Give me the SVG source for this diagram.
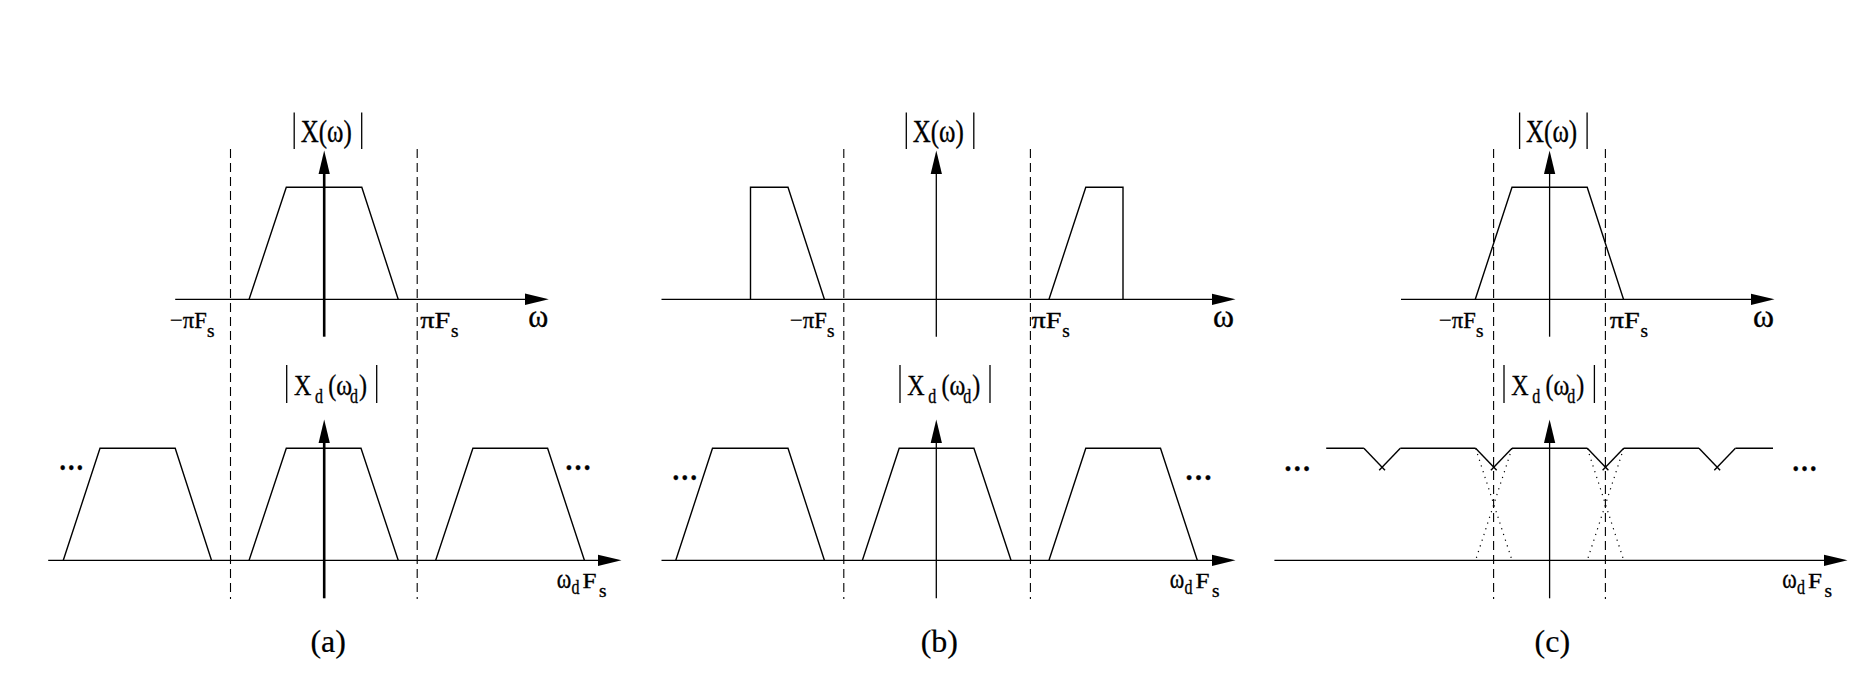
<svg xmlns="http://www.w3.org/2000/svg" width="1860" height="700" viewBox="0 0 1860 700">
<defs>
<marker id="ah" markerUnits="userSpaceOnUse" markerWidth="24" markerHeight="12" viewBox="0 0 23 11" refX="11" refY="5.5" orient="auto">
<path d="M0,0 L23,5.5 L0,11 z" fill="#000"/>
</marker>
<style>
.ax{stroke:#000;stroke-width:1.3;fill:none}
.axb{stroke:#000;stroke-width:2.6;fill:none}
.dash{stroke:#000;stroke-width:1.1;stroke-dasharray:9 5;fill:none}
.sp{stroke:#000;stroke-width:1.4;fill:none;stroke-linejoin:miter}
.dot{stroke:#000;stroke-width:1.2;stroke-dasharray:1.2 4.8;fill:none}
.bar{stroke:#000;stroke-width:1.3}
text{font-family:"Liberation Serif","Times New Roman",serif;fill:#000;stroke:#000;stroke-width:0.35}
.big{font-size:31px}
.lab{font-size:30px}
.sub{font-size:20px}
.pf{font-size:24px}
.ps{font-size:18px}
.cap{font-size:32px;text-anchor:middle;stroke-width:0.2}
.ell{font-size:30px;font-weight:bold}
</style>
</defs>
<rect width="1860" height="700" fill="#fff"/>

<g id="panel-a">
 <g id="a-guides">
  <line class="dash" x1="230.5" y1="149" x2="230.5" y2="599"/>
  <line class="dash" x1="417.2" y1="149" x2="417.2" y2="599"/>
 </g>
 <g id="a-top">
  <line class="ax" x1="175.2" y1="299.3" x2="536.3" y2="299.3" marker-end="url(#ah)"/>
  <line class="axb" x1="324.2" y1="336.7" x2="324.2" y2="163" marker-end="url(#ah)"/>
  <polyline class="sp" points="249.1,299.3 286.3,187.3 361.8,187.3 398.2,299.3"/>
  <line class="bar" x1="294.2" y1="112.5" x2="294.2" y2="149"/>
  <line class="bar" x1="361.7" y1="112.5" x2="361.7" y2="149"/>
  <text class="big" x="300.7" y="142.3" textLength="51" lengthAdjust="spacingAndGlyphs">X(ω)</text>
  <text class="pf" x="170" y="328" textLength="36.7" lengthAdjust="spacingAndGlyphs">−πF</text>
  <text class="ps" x="207" y="337" textLength="7.5" lengthAdjust="spacingAndGlyphs">s</text>
  <text class="pf" x="420.3" y="328" textLength="30" lengthAdjust="spacingAndGlyphs">πF</text>
  <text class="ps" x="451" y="337" textLength="7.5" lengthAdjust="spacingAndGlyphs">s</text>
  <text class="big" x="528.3" y="327" textLength="20" lengthAdjust="spacingAndGlyphs">ω</text>
 </g>
 <g id="a-bottom">
  <line class="ax" x1="48.2" y1="560.3" x2="609" y2="560.3" marker-end="url(#ah)"/>
  <line class="axb" x1="324.2" y1="598.3" x2="324.2" y2="432" marker-end="url(#ah)"/>
  <polyline class="sp" points="63.3,560.3 100,448.3 175.2,448.3 211.5,560.3"/>
  <polyline class="sp" points="249.1,560.3 286.3,448.3 361,448.3 398.2,560.3"/>
  <polyline class="sp" points="435.7,560.3 472.9,448.3 547.6,448.3 584.4,560.3"/>
  <text class="ell" x="58.5" y="470" textLength="25.5" lengthAdjust="spacingAndGlyphs">…</text>
  <text class="ell" x="564.6" y="470" textLength="27" lengthAdjust="spacingAndGlyphs">…</text>
  <line class="bar" x1="286.7" y1="365" x2="286.7" y2="403"/>
  <line class="bar" x1="376.7" y1="365" x2="376.7" y2="403"/>
  <text class="lab" transform="translate(294,395) scale(0.8,1)">X<tspan class="sub" x="26.25" y="7.5">d</tspan><tspan x="42.9" y="0">(ω</tspan><tspan class="sub" x="70" y="7.5">d</tspan><tspan x="81.3" y="0">)</tspan></text>
  <text style="font-size:28px" x="556.7" y="588" textLength="14.5" lengthAdjust="spacingAndGlyphs">ω</text>
  <text class="sub" x="571.5" y="594" textLength="8" lengthAdjust="spacingAndGlyphs">d</text>
  <text style="font-size:22px" x="582.5" y="588" textLength="14" lengthAdjust="spacingAndGlyphs">F</text>
  <text class="ps" x="599" y="597" textLength="7.5" lengthAdjust="spacingAndGlyphs">s</text>
 </g>
 <text class="cap" x="328.2" y="652">(a)</text>
</g>

<g id="panel-b">
 <g id="b-guides">
  <line class="dash" x1="843.8" y1="149" x2="843.8" y2="599"/>
  <line class="dash" x1="1030.4" y1="149" x2="1030.4" y2="599"/>
 </g>
 <g id="b-top">
  <line class="ax" x1="661.5" y1="299.3" x2="1223" y2="299.3" marker-end="url(#ah)"/>
  <line class="ax" x1="936.3" y1="336.7" x2="936.3" y2="163" marker-end="url(#ah)"/>
  <polyline class="sp" points="750.5,299.3 750.5,187.3 788,187.3 824.4,299.3"/>
  <polyline class="sp" points="1049,299.3 1085.8,187.3 1123,187.3 1123,299.3"/>
  <line class="bar" x1="906.3" y1="112.5" x2="906.3" y2="149"/>
  <line class="bar" x1="973.8" y1="112.5" x2="973.8" y2="149"/>
  <text class="big" x="912.8" y="142.3" textLength="51" lengthAdjust="spacingAndGlyphs">X(ω)</text>
  <text class="pf" x="790" y="328" textLength="36.7" lengthAdjust="spacingAndGlyphs">−πF</text>
  <text class="ps" x="827" y="337" textLength="7.5" lengthAdjust="spacingAndGlyphs">s</text>
  <text class="pf" x="1031.5" y="328" textLength="30" lengthAdjust="spacingAndGlyphs">πF</text>
  <text class="ps" x="1062.2" y="337" textLength="7.5" lengthAdjust="spacingAndGlyphs">s</text>
  <text class="big" x="1213" y="327" textLength="21" lengthAdjust="spacingAndGlyphs">ω</text>
 </g>
 <g id="b-bottom">
  <line class="ax" x1="661.5" y1="560.3" x2="1223" y2="560.3" marker-end="url(#ah)"/>
  <line class="ax" x1="936.3" y1="598.3" x2="936.3" y2="432" marker-end="url(#ah)"/>
  <polyline class="sp" points="675.8,560.3 712.5,448.3 788,448.3 824.4,560.3"/>
  <polyline class="sp" points="862.4,560.3 899.2,448.3 973.9,448.3 1011,560.3"/>
  <polyline class="sp" points="1049,560.3 1085.8,448.3 1160.5,448.3 1197.3,560.3"/>
  <text class="ell" x="671.4" y="479.5" textLength="26.5" lengthAdjust="spacingAndGlyphs">…</text>
  <text class="ell" x="1184.6" y="479.5" textLength="28" lengthAdjust="spacingAndGlyphs">…</text>
  <line class="bar" x1="900" y1="365" x2="900" y2="403"/>
  <line class="bar" x1="990" y1="365" x2="990" y2="403"/>
  <text class="lab" transform="translate(907.3,395) scale(0.8,1)">X<tspan class="sub" x="26.25" y="7.5">d</tspan><tspan x="42.9" y="0">(ω</tspan><tspan class="sub" x="70" y="7.5">d</tspan><tspan x="81.3" y="0">)</tspan></text>
  <text style="font-size:28px" x="1169.7" y="588" textLength="14.5" lengthAdjust="spacingAndGlyphs">ω</text>
  <text class="sub" x="1184.5" y="594" textLength="8" lengthAdjust="spacingAndGlyphs">d</text>
  <text style="font-size:22px" x="1195.5" y="588" textLength="14" lengthAdjust="spacingAndGlyphs">F</text>
  <text class="ps" x="1212" y="597" textLength="7.5" lengthAdjust="spacingAndGlyphs">s</text>
 </g>
 <text class="cap" x="939.3" y="652">(b)</text>
</g>

<g id="panel-c">
 <g id="c-guides">
  <line class="dash" x1="1493.6" y1="149" x2="1493.6" y2="599"/>
  <line class="dash" x1="1605.4" y1="149" x2="1605.4" y2="599"/>
 </g>
 <g id="c-top">
  <line class="ax" x1="1401" y1="299.3" x2="1762" y2="299.3" marker-end="url(#ah)"/>
  <line class="ax" x1="1549.6" y1="336.7" x2="1549.6" y2="163" marker-end="url(#ah)"/>
  <polyline class="sp" points="1475.3,299.3 1512,187.3 1587.2,187.3 1623.5,299.3"/>
  <line class="bar" x1="1519.6" y1="112.5" x2="1519.6" y2="149"/>
  <line class="bar" x1="1587.1" y1="112.5" x2="1587.1" y2="149"/>
  <text class="big" x="1526.1" y="142.3" textLength="51" lengthAdjust="spacingAndGlyphs">X(ω)</text>
  <text class="pf" x="1439" y="328" textLength="36.7" lengthAdjust="spacingAndGlyphs">−πF</text>
  <text class="ps" x="1476" y="337" textLength="7.5" lengthAdjust="spacingAndGlyphs">s</text>
  <text class="pf" x="1609.7" y="328" textLength="30" lengthAdjust="spacingAndGlyphs">πF</text>
  <text class="ps" x="1640.4" y="337" textLength="7.5" lengthAdjust="spacingAndGlyphs">s</text>
  <text class="big" x="1753" y="327" textLength="21" lengthAdjust="spacingAndGlyphs">ω</text>
 </g>
 <g id="c-bottom">
  <line class="ax" x1="1274.4" y1="560.3" x2="1835" y2="560.3" marker-end="url(#ah)"/>
  <line class="ax" x1="1549.6" y1="598.3" x2="1549.6" y2="432" marker-end="url(#ah)"/>
  <g id="c-sum">
   <line class="sp" x1="1326.2" y1="448.3" x2="1363.9" y2="448.3"/>
   <line class="sp" x1="1400.3" y1="448.3" x2="1475.6" y2="448.3"/>
   <line class="sp" x1="1512" y1="448.3" x2="1587.3" y2="448.3"/>
   <line class="sp" x1="1623.7" y1="448.3" x2="1699" y2="448.3"/>
   <line class="sp" x1="1735.4" y1="448.3" x2="1773" y2="448.3"/>
   <line class="sp" x1="1363.9" y1="448.3" x2="1385" y2="470.3"/>
   <line class="sp" x1="1400.3" y1="448.3" x2="1379.2" y2="470.3"/>
   <line class="sp" x1="1475.6" y1="448.3" x2="1496.7" y2="470.3"/>
   <line class="sp" x1="1512" y1="448.3" x2="1490.9" y2="470.3"/>
   <line class="sp" x1="1587.3" y1="448.3" x2="1608.4" y2="470.3"/>
   <line class="sp" x1="1623.7" y1="448.3" x2="1602.6" y2="470.3"/>
   <line class="sp" x1="1699" y1="448.3" x2="1720.1" y2="470.3"/>
   <line class="sp" x1="1735.4" y1="448.3" x2="1714.3" y2="470.3"/>
  </g>
  <g id="c-overlap">
   <line class="dot" x1="1475.6" y1="448.3" x2="1512" y2="560.3"/>
   <line class="dot" x1="1512" y1="448.3" x2="1475.6" y2="560.3"/>
   <line class="dot" x1="1587.3" y1="448.3" x2="1623.7" y2="560.3"/>
   <line class="dot" x1="1623.7" y1="448.3" x2="1587.3" y2="560.3"/>
  </g>
  <text class="ell" x="1283.5" y="470.5" textLength="27.5" lengthAdjust="spacingAndGlyphs">…</text>
  <text class="ell" x="1791.6" y="470.5" textLength="26" lengthAdjust="spacingAndGlyphs">…</text>
  <line class="bar" x1="1504" y1="365" x2="1504" y2="403"/>
  <line class="bar" x1="1594.4" y1="365" x2="1594.4" y2="403"/>
  <text class="lab" transform="translate(1511.3,395) scale(0.8,1)">X<tspan class="sub" x="26.25" y="7.5">d</tspan><tspan x="42.9" y="0">(ω</tspan><tspan class="sub" x="70" y="7.5">d</tspan><tspan x="81.3" y="0">)</tspan></text>
  <text style="font-size:28px" x="1782.2" y="588" textLength="14.5" lengthAdjust="spacingAndGlyphs">ω</text>
  <text class="sub" x="1797" y="594" textLength="8" lengthAdjust="spacingAndGlyphs">d</text>
  <text style="font-size:22px" x="1808" y="588" textLength="14" lengthAdjust="spacingAndGlyphs">F</text>
  <text class="ps" x="1824.5" y="597" textLength="7.5" lengthAdjust="spacingAndGlyphs">s</text>
 </g>
 <text class="cap" x="1552.3" y="652">(c)</text>
</g>
</svg>
